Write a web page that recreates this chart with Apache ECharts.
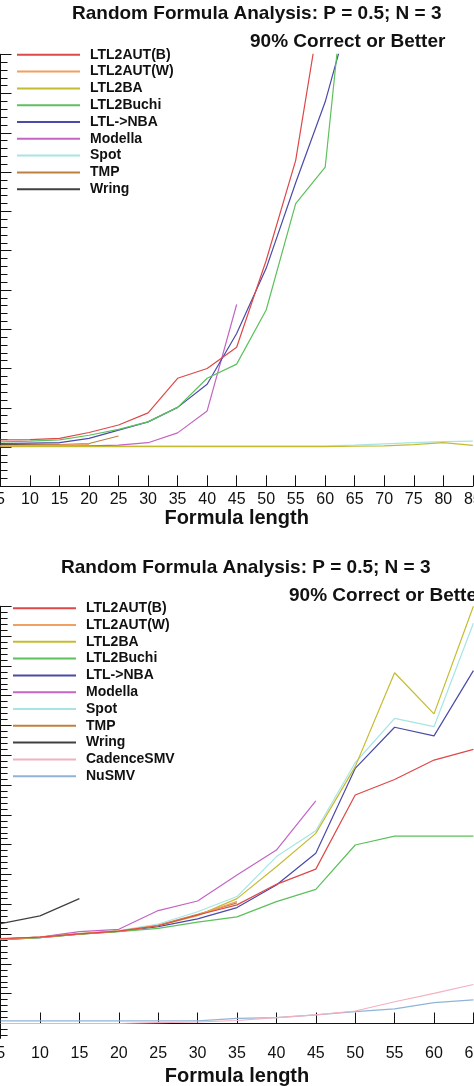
<!DOCTYPE html>
<html>
<head>
<meta charset="utf-8">
<script src="https://cdn.jsdelivr.net/npm/echarts@6/dist/echarts.min.js"></script>
<style>
html,body{margin:0;padding:0;background:#fff;}
#c{width:474px;height:1086px;}
</style>
</head>
<body>
<div id="c"></div>
<script>
// ---------- data ----------
const titleText = 'Random Formula Analysis: P = 0.5; N = 3';
const subtitleText = '90% Correct or Better';
const xName = 'Formula length';

const xTop = [5,10,15,20,25,30,35,40,45,50,55,60,65,70,75,80,85];
const topLTL2AUTB = [1.18,1.19,1.22,1.37,1.56,1.87,2.75,3.0,3.54,5.75,8.3,12.9];
const topLTL2AUTW = [1.03,1.04,1.05,1.06];
const topLTL2BA   = [1.01,1.01,1.01,1.01,1.01,1.01,1.01,1.01,1.01,1.01,1.01,1.01,1.02,1.03,1.06,1.11,1.04];
const topLTL2Buchi= [1.13,1.15,1.18,1.30,1.45,1.64,2.01,2.75,3.11,4.49,7.2,8.13,15.4];
const topLTLNBA   = [1.09,1.10,1.11,1.22,1.43,1.64,2.01,2.6,3.89,5.55,7.73,9.79,12.5];
const topModella  = [1.02,1.02,1.03,1.03,1.05,1.11,1.36,1.92,4.63];
const topSpot     = [1.03,1.03,1.03,1.03,1.03,1.03,1.03,1.03,1.03,1.03,1.03,1.03,1.05,1.08,1.11,1.14,1.15];
const topTMP      = [1.04,1.05,1.06,1.09,1.28];
const topWring    = [1.06,1.06,1.07];

const xBottom = [5,10,15,20,25,30,35,40,45,50,55,60,65];
const botLTL2AUTB = [2.85,2.90,3.01,3.10,3.28,3.64,3.98,4.67,5.18,7.67,8.19,8.84,9.2];
const botLTL2AUTW = [2.84,2.90,3.02,3.11,3.29,3.63,4.10];
const botLTL2BA   = [2.82,2.89,3.00,3.10,3.28,3.62,4.19,5.26,6.38,8.62,11.77,10.39,14.0];
const botLTL2Buchi= [2.81,2.88,3.00,3.08,3.19,3.40,3.58,4.09,4.50,5.99,6.29,6.29,6.29];
const botLTLNBA   = [2.81,2.88,3.00,3.09,3.25,3.51,3.89,4.65,5.71,8.56,9.94,9.65,11.84];
const botModella  = [2.83,2.90,3.08,3.16,3.79,4.11,4.98,5.82,7.47];
const botSpot     = [2.82,2.89,3.02,3.12,3.34,3.75,4.26,5.60,6.47,8.75,10.24,9.96,13.43];
const botTMP      = [2.83,2.90,3.01,3.10,3.30,3.66,4.05];
const botWring    = [3.35,3.61,4.19];
const botCadence  = [0,0,0,0,0.03,0.05,0.10,0.20,0.29,0.42,0.73,1.01,1.31];
const botNuSMV    = [0.09,0.09,0.09,0.09,0.09,0.09,0.17,0.20,0.29,0.40,0.49,0.70,0.79];

const namesTop = ['LTL2AUT(B)','LTL2AUT(W)','LTL2BA','LTL2Buchi','LTL->NBA','Modella','Spot','TMP','Wring'];
const namesBot = ['LTL2AUT(B)','LTL2AUT(W)','LTL2BA','LTL2Buchi','LTL->NBA','Modella','Spot','TMP','Wring','CadenceSMV','NuSMV'];
const colors = {
  'LTL2AUT(B)':'#dd4848','LTL2AUT(W)':'#f0a060','LTL2BA':'#c4bc30','LTL2Buchi':'#5cc05c',
  'LTL->NBA':'#4a4aa8','Modella':'#c464c4','Spot':'#a8e4e4','TMP':'#c08040','Wring':'#404040',
  'CadenceSMV':'#f4b0c0','NuSMV':'#90b4d8'
};
const topData = [topLTL2AUTB,topLTL2AUTW,topLTL2BA,topLTL2Buchi,topLTLNBA,topModella,topSpot,topTMP,topWring];
const botData = [botLTL2AUTB,botLTL2AUTW,botLTL2BA,botLTL2Buchi,botLTLNBA,botModella,botSpot,botTMP,botWring,botCadence,botNuSMV];

// ---------- build ----------
const FONT = '"Liberation Sans", Arial, Helvetica, sans-serif';
function pairs(xs, ys){ return ys.map((y,i)=>[xs[i], y]); }

const series = [];
function addSeries(names, datas, xs, idx){
  names.forEach((n,i)=>{
    series.push({
      name:n, type:'line', xAxisIndex:idx, yAxisIndex: idx===0?0:1,
      data: pairs(xs, datas[i]), symbol:'none', clip:true,
      lineStyle:{color:colors[n], width:1.2}, itemStyle:{color:colors[n]},
      emphasis:{disabled:true}, z: 2 + (names.length - i)*0.01
    });
  });
}
addSeries(namesTop, topData, xTop, 0);
addSeries(namesBot, botData, xBottom, 1);

const majorBot = []; for(let v=0; v<=14; v++) majorBot.push(v);
const minorBot = [];
for(let k=-2; k<=70; k++){ if(k%5!==0){ minorBot.push(+(k*0.2).toFixed(2)); } }

const tickStyle = {color:'#111', width:1};
function xAxisCfg(grid, min, max, gap, margin){
  return {
    type:'value', gridIndex:grid, min:min, max:max, interval:5,
    name:xName, nameLocation:'middle', nameGap:gap,
    nameTextStyle:{fontFamily:FONT, fontWeight:'bold', fontSize:20, color:'#111'},
    axisLine:{show:true, lineStyle:{color:'#111', width:1}},
    axisTick:{show:true, inside:true, length:11, lineStyle:tickStyle},
    axisLabel:{show:true, margin:margin, fontFamily:FONT, fontSize:16, color:'#111', showMinLabel:true, showMaxLabel:true, hideOverlap:false},
    splitLine:{show:false}
  };
}

const legendBase = {
  orient:'vertical', selectedMode:false, itemWidth:63, itemHeight:14, itemGap:2.8,
  itemStyle:{opacity:0},
  textStyle:{fontFamily:FONT, fontWeight:'bold', fontSize:14, color:'#111', padding:[0,0,0,5]}
};

const option = {
  animation:false,
  backgroundColor:'#fff',
  title:[
    {text:titleText, left:72, top:4, padding:0, textStyle:{fontFamily:FONT, fontWeight:'bold', fontSize:19, color:'#111'}},
    {text:subtitleText, left:250, top:32.5, padding:0, textStyle:{fontFamily:FONT, fontWeight:'bold', fontSize:19, color:'#111'}},
    {text:titleText, left:61, top:558, padding:0, textStyle:{fontFamily:FONT, fontWeight:'bold', fontSize:19, color:'#111'}},
    {text:subtitleText, left:289, top:586, padding:0, textStyle:{fontFamily:FONT, fontWeight:'bold', fontSize:19, color:'#111'}}
  ],
  legend:[
    Object.assign({}, legendBase, {data:namesTop, left:16, top:47.8, padding:0}),
    Object.assign({}, legendBase, {data:namesBot, left:12, top:601.2, padding:0})
  ],
  grid:[
    {left:0.5, right:1.2, top:54.3, height:432, outerBoundsMode:'none', containLabel:false},
    {left:0.6, right:0.6, top:606.3, height:432.1, outerBoundsMode:'none', containLabel:false}
  ],
  xAxis:[ xAxisCfg(0,5,85,21,5), xAxisCfg(1,5,65,28,7) ],
  yAxis:[
    {type:'value', gridIndex:0, min:0, max:11, interval:1,
     axisLine:{show:true, lineStyle:{color:'#111'}},
     axisTick:{show:true, inside:true, length:11, lineStyle:tickStyle},
     minorTick:{show:true, splitNumber:5, length:7, lineStyle:tickStyle},
     axisLabel:{show:false}, splitLine:{show:false}, minorSplitLine:{show:false}},
    {type:'value', gridIndex:1, min:-0.5, max:14,
     axisLine:{show:true, lineStyle:{color:'#111'}},
     axisTick:{show:true, inside:true, length:11, lineStyle:tickStyle, customValues:majorBot},
     axisLabel:{show:false, customValues:majorBot}, splitLine:{show:false}},
    {type:'value', gridIndex:1, min:-0.5, max:14, position:'left',
     axisLine:{show:false},
     axisTick:{show:true, inside:true, length:7, lineStyle:tickStyle, customValues:minorBot},
     axisLabel:{show:false, customValues:minorBot}, splitLine:{show:false}}
  ],
  series: series
};

const chart = echarts.init(document.getElementById('c'), null, {renderer:'canvas'});
chart.setOption(option);
</script>
</body>
</html>
